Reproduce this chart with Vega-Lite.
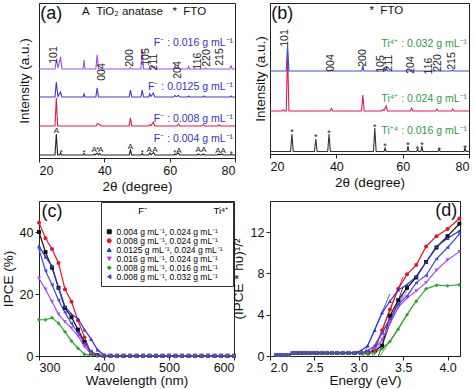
{
"$schema": "https://vega.github.io/schema/vega-lite/v6.json",
"padding": {"left": 0, "top": 2, "right": 2, "bottom": 0},
"bounds": "flush",
"columns": 2,
"spacing": {"row": 43, "column": 35},
"datasets": {
"xrdA": [
{"s":"a1","x":20,"y":3},{"s":"a1","x":24.9,"y":3},{"s":"a1","x":25.3,"y":24},{"s":"a1","x":25.7,"y":3},{"s":"a1","x":26.3,"y":3},{"s":"a1","x":26.6,"y":5},{"s":"a1","x":26.9,"y":3},{"s":"a1","x":33.5,"y":3},{"s":"a1","x":33.8,"y":4.5},{"s":"a1","x":34.1,"y":3},{"s":"a1","x":36.7,"y":3},{"s":"a1","x":37.0,"y":4},{"s":"a1","x":37.3,"y":3.2},{"s":"a1","x":37.8,"y":5},{"s":"a1","x":38.2,"y":3.2},{"s":"a1","x":38.6,"y":4.5},{"s":"a1","x":39.0,"y":3},{"s":"a1","x":47.6,"y":3},{"s":"a1","x":48.0,"y":8},{"s":"a1","x":48.4,"y":3},{"s":"a1","x":51.3,"y":3},{"s":"a1","x":51.6,"y":4.5},{"s":"a1","x":51.9,"y":3},{"s":"a1","x":53.6,"y":3},{"s":"a1","x":53.9,"y":5},{"s":"a1","x":54.3,"y":3.3},{"s":"a1","x":55.1,"y":5.5},{"s":"a1","x":55.5,"y":3},{"s":"a1","x":61.3,"y":3},{"s":"a1","x":61.6,"y":4},{"s":"a1","x":61.9,"y":3.2},{"s":"a1","x":62.7,"y":5},{"s":"a1","x":63.1,"y":3},{"s":"a1","x":68.5,"y":3},{"s":"a1","x":68.8,"y":4},{"s":"a1","x":69.2,"y":3},{"s":"a1","x":70.0,"y":3},{"s":"a1","x":70.3,"y":4},{"s":"a1","x":70.7,"y":3},{"s":"a1","x":74.7,"y":3},{"s":"a1","x":75.0,"y":4},{"s":"a1","x":75.4,"y":3.2},{"s":"a1","x":76.0,"y":4},{"s":"a1","x":76.4,"y":3},{"s":"a1","x":78.5,"y":3},{"s":"a1","x":78.8,"y":4},{"s":"a1","x":79.1,"y":3},{"s":"a1","x":80,"y":3},
{"s":"a2","x":20,"y":32},{"s":"a2","x":24.9,"y":32},{"s":"a2","x":25.3,"y":60},{"s":"a2","x":25.7,"y":32},{"s":"a2","x":37.5,"y":32},{"s":"a2","x":37.9,"y":34.5},{"s":"a2","x":38.5,"y":33.5},{"s":"a2","x":39.0,"y":32},{"s":"a2","x":47.6,"y":32},{"s":"a2","x":48.0,"y":40},{"s":"a2","x":48.4,"y":32},{"s":"a2","x":53.6,"y":32},{"s":"a2","x":53.9,"y":33.5},{"s":"a2","x":54.3,"y":32.3},{"s":"a2","x":55.0,"y":36},{"s":"a2","x":55.4,"y":32},{"s":"a2","x":62.3,"y":32},{"s":"a2","x":62.7,"y":34},{"s":"a2","x":63.1,"y":32},{"s":"a2","x":69.9,"y":32},{"s":"a2","x":70.3,"y":33.5},{"s":"a2","x":70.7,"y":32},{"s":"a2","x":74.7,"y":32},{"s":"a2","x":75.1,"y":33.3},{"s":"a2","x":75.5,"y":32},{"s":"a2","x":80,"y":32},
{"s":"a3","x":20,"y":61},{"s":"a3","x":24.9,"y":61},{"s":"a3","x":25.3,"y":76},{"s":"a3","x":25.8,"y":61.5},{"s":"a3","x":26.6,"y":66},{"s":"a3","x":27.0,"y":61},{"s":"a3","x":33.5,"y":61},{"s":"a3","x":33.8,"y":64},{"s":"a3","x":34.1,"y":61},{"s":"a3","x":37.4,"y":61},{"s":"a3","x":37.8,"y":70},{"s":"a3","x":38.2,"y":61},{"s":"a3","x":47.6,"y":61},{"s":"a3","x":48.0,"y":68},{"s":"a3","x":48.4,"y":61},{"s":"a3","x":51.2,"y":61},{"s":"a3","x":51.6,"y":68},{"s":"a3","x":52.0,"y":61},{"s":"a3","x":53.6,"y":61},{"s":"a3","x":53.9,"y":64},{"s":"a3","x":54.3,"y":61.5},{"s":"a3","x":55.0,"y":65},{"s":"a3","x":55.4,"y":61},{"s":"a3","x":61.2,"y":61},{"s":"a3","x":61.6,"y":62.5},{"s":"a3","x":62.0,"y":61.3},{"s":"a3","x":62.7,"y":62.5},{"s":"a3","x":63.1,"y":61},{"s":"a3","x":65.5,"y":61},{"s":"a3","x":65.8,"y":62},{"s":"a3","x":66.1,"y":61},{"s":"a3","x":70.2,"y":61},{"s":"a3","x":70.5,"y":62},{"s":"a3","x":70.8,"y":61},{"s":"a3","x":78.5,"y":61},{"s":"a3","x":78.8,"y":62},{"s":"a3","x":79.1,"y":61},{"s":"a3","x":80,"y":61},
{"s":"a4","x":20,"y":89},{"s":"a4","x":24.9,"y":89},{"s":"a4","x":25.3,"y":98},{"s":"a4","x":25.8,"y":90},{"s":"a4","x":26.6,"y":101},{"s":"a4","x":27.0,"y":89},{"s":"a4","x":33.5,"y":89},{"s":"a4","x":33.8,"y":98},{"s":"a4","x":34.1,"y":89},{"s":"a4","x":37.4,"y":89},{"s":"a4","x":37.8,"y":103},{"s":"a4","x":38.2,"y":89},{"s":"a4","x":47.7,"y":89},{"s":"a4","x":48.0,"y":90.5},{"s":"a4","x":48.3,"y":89},{"s":"a4","x":51.2,"y":89},{"s":"a4","x":51.6,"y":109},{"s":"a4","x":52.0,"y":89},{"s":"a4","x":54.2,"y":89},{"s":"a4","x":54.6,"y":92},{"s":"a4","x":55.0,"y":90},{"s":"a4","x":55.3,"y":91.5},{"s":"a4","x":55.7,"y":89},{"s":"a4","x":61.3,"y":89},{"s":"a4","x":61.6,"y":92.5},{"s":"a4","x":62.0,"y":89.5},{"s":"a4","x":62.7,"y":90.5},{"s":"a4","x":63.1,"y":89},{"s":"a4","x":65.5,"y":89},{"s":"a4","x":65.8,"y":91.5},{"s":"a4","x":66.1,"y":89},{"s":"a4","x":70.7,"y":89},{"s":"a4","x":71.0,"y":90},{"s":"a4","x":71.3,"y":89},{"s":"a4","x":78.4,"y":89},{"s":"a4","x":78.8,"y":92},{"s":"a4","x":79.2,"y":89},{"s":"a4","x":80,"y":89}
],
"xrdB": [
{"s":"b1","x":20,"y":2.5},{"s":"b1","x":26.2,"y":2.5},{"s":"b1","x":26.6,"y":20},{"s":"b1","x":27.0,"y":2.5},{"s":"b1","x":33.4,"y":2.5},{"s":"b1","x":33.8,"y":15},{"s":"b1","x":34.2,"y":2.5},{"s":"b1","x":37.4,"y":2.5},{"s":"b1","x":37.8,"y":20},{"s":"b1","x":38.2,"y":2.5},{"s":"b1","x":51.2,"y":2.5},{"s":"b1","x":51.6,"y":26},{"s":"b1","x":52.0,"y":2.5},{"s":"b1","x":54.4,"y":2.5},{"s":"b1","x":54.7,"y":6},{"s":"b1","x":55.0,"y":2.5},{"s":"b1","x":61.3,"y":2.5},{"s":"b1","x":61.6,"y":8},{"s":"b1","x":61.9,"y":2.5},{"s":"b1","x":64.2,"y":2.5},{"s":"b1","x":64.5,"y":4.5},{"s":"b1","x":64.8,"y":2.5},{"s":"b1","x":65.5,"y":2.5},{"s":"b1","x":65.8,"y":8},{"s":"b1","x":66.1,"y":2.5},{"s":"b1","x":70.7,"y":2.5},{"s":"b1","x":71.0,"y":4.5},{"s":"b1","x":71.3,"y":2.5},{"s":"b1","x":78.5,"y":2.5},{"s":"b1","x":78.8,"y":6},{"s":"b1","x":79.1,"y":2.5},{"s":"b1","x":80,"y":2.5},
{"s":"b2","x":20,"y":43},{"s":"b2","x":23.6,"y":43},{"s":"b2","x":24.0,"y":44},{"s":"b2","x":24.5,"y":43},{"s":"b2","x":24.9,"y":43},{"s":"b2","x":25.3,"y":103},{"s":"b2","x":25.7,"y":43},{"s":"b2","x":38.1,"y":43},{"s":"b2","x":38.5,"y":45.5},{"s":"b2","x":38.9,"y":43},{"s":"b2","x":47.6,"y":43},{"s":"b2","x":48.0,"y":59},{"s":"b2","x":48.4,"y":43},{"s":"b2","x":53.7,"y":43},{"s":"b2","x":54.0,"y":44.5},{"s":"b2","x":54.4,"y":43.5},{"s":"b2","x":55.0,"y":48},{"s":"b2","x":55.4,"y":43},{"s":"b2","x":62.3,"y":43},{"s":"b2","x":62.7,"y":46},{"s":"b2","x":63.1,"y":43},{"s":"b2","x":69.9,"y":43},{"s":"b2","x":70.3,"y":45},{"s":"b2","x":70.7,"y":43},{"s":"b2","x":74.7,"y":43},{"s":"b2","x":75.1,"y":45},{"s":"b2","x":75.5,"y":43},{"s":"b2","x":80,"y":43},
{"s":"b3","x":20,"y":83},{"s":"b3","x":24.9,"y":83},{"s":"b3","x":25.3,"y":108},{"s":"b3","x":25.7,"y":83},{"s":"b3","x":38.1,"y":83},{"s":"b3","x":38.5,"y":84},{"s":"b3","x":38.9,"y":83},{"s":"b3","x":47.7,"y":83},{"s":"b3","x":48.0,"y":89},{"s":"b3","x":48.3,"y":83},{"s":"b3","x":54.8,"y":83},{"s":"b3","x":55.1,"y":87},{"s":"b3","x":55.4,"y":83},{"s":"b3","x":62.4,"y":83},{"s":"b3","x":62.7,"y":84},{"s":"b3","x":63.0,"y":83},{"s":"b3","x":74.8,"y":83},{"s":"b3","x":75.1,"y":84},{"s":"b3","x":75.4,"y":83},{"s":"b3","x":80,"y":83}
],
"hklA": [{"x":24.5,"y":103,"t":"101"},{"x":39.2,"y":86,"t":"004"},{"x":48.0,"y":100,"t":"200"},{"x":52.9,"y":101,"t":"105"},{"x":55.2,"y":96,"t":"211"},{"x":62.6,"y":88,"t":"204"},{"x":68.7,"y":97,"t":"116"},{"x":71.3,"y":100,"t":"220"},{"x":75.4,"y":101,"t":"215"}],
"hklB": [{"x":24.6,"y":116,"t":"101"},{"x":38.5,"y":91,"t":"004"},{"x":48.0,"y":96,"t":"200"},{"x":53.4,"y":90,"t":"105"},{"x":55.8,"y":91,"t":"211"},{"x":62.6,"y":89,"t":"204"},{"x":67.8,"y":88,"t":"116"},{"x":70.6,"y":91,"t":"220"},{"x":74.9,"y":93,"t":"215"}],
"mkA": [{"x":25.3,"y":27,"t":"A"},{"x":26.8,"y":5,"t":"*"},{"x":33.8,"y":5,"t":"*"},{"x":36.9,"y":8,"t":"A"},{"x":37.9,"y":8,"t":"*"},{"x":38.9,"y":8,"t":"A"},{"x":48.0,"y":11,"t":"A"},{"x":51.6,"y":5,"t":"*"},{"x":53.7,"y":8,"t":"A"},{"x":55.5,"y":8,"t":"A"},{"x":61.6,"y":5,"t":"*"},{"x":62.8,"y":7,"t":"A"},{"x":68.7,"y":8,"t":"A"},{"x":70.4,"y":8,"t":"A"},{"x":74.8,"y":7,"t":"A"},{"x":76.4,"y":7,"t":"A"},{"x":78.9,"y":4,"t":"*"}],
"mkB": [{"x":26.6,"y":22,"t":"*"},{"x":33.8,"y":17,"t":"*"},{"x":37.8,"y":21,"t":"*"},{"x":51.6,"y":27,"t":"*"},{"x":54.7,"y":8,"t":"*"},{"x":61.6,"y":9,"t":"*"},{"x":64.5,"y":5.5,"t":"*"},{"x":65.8,"y":9,"t":"*"},{"x":71.0,"y":4.5,"t":"*"},{"x":78.8,"y":6,"t":"*"}],
"lgA": [{"x":79.4,"y":115,"t":"F⁻ : 0.016 g mL⁻¹"},{"x":79.4,"y":71,"t":"F⁻ : 0.0125 g mL⁻¹"},{"x":79.4,"y":39,"t":"F⁻ : 0.008 g mL⁻¹"},{"x":79.4,"y":19,"t":"F⁻ : 0.004 g mL⁻¹"}],
"lgB": [{"x":79.4,"y":110,"t":"Ti⁴⁺ : 0.032 g mL⁻¹"},{"x":79.4,"y":55,"t":"Ti⁴⁺ : 0.024 g mL⁻¹"},{"x":79.4,"y":23,"t":"Ti⁺⁴ : 0.016 g mL⁻¹"}],
"fits": [
{"k":1,"e":3.22,"t":0},{"k":1,"e":3.5,"t":6.7},
{"k":2,"e":3.15,"t":0},{"k":2,"e":3.5,"t":7.7},
{"k":3,"e":3.05,"t":0},{"k":3,"e":3.35,"t":6},
{"k":4,"e":3.17,"t":0},{"k":4,"e":3.55,"t":6.5},
{"k":5,"e":3.24,"t":0},{"k":5,"e":3.65,"t":5.4},
{"k":6,"e":3.11,"t":0},{"k":6,"e":3.5,"t":5.9}
],
"ipce": [
{"k":1,"w":300,"i":40,"e":4.133,"t":12.8},{"k":1,"w":310,"i":33.5,"e":4.0,"t":11.6},{"k":1,"w":320,"i":28.5,"e":3.875,"t":10.5},{"k":1,"w":330,"i":22,"e":3.758,"t":9.1},{"k":1,"w":340,"i":15.5,"e":3.647,"t":7.6},{"k":1,"w":350,"i":12.5,"e":3.543,"t":6.6},{"k":1,"w":360,"i":8.5,"e":3.444,"t":5.4},{"k":1,"w":370,"i":4.5,"e":3.351,"t":3.9},{"k":1,"w":380,"i":1,"e":3.263,"t":1.0},{"k":1,"w":390,"i":0.3,"e":3.179,"t":0.5},{"k":1,"w":400,"i":0.1,"e":3.1,"t":0.35},{"k":1,"w":410,"i":0.1,"e":3.024,"t":0.3},{"k":1,"w":420,"i":0.1,"e":2.952,"t":0.3},{"k":1,"w":430,"i":0.1,"e":2.884,"t":0.3},{"k":1,"w":440,"i":0.1,"e":2.818,"t":0.3},{"k":1,"w":450,"i":0.1,"e":2.756,"t":0.3},{"k":1,"w":460,"i":0.1,"e":2.696,"t":0.3},{"k":1,"w":470,"i":0.1,"e":2.638,"t":0.3},{"k":1,"w":480,"i":0.1,"e":2.583,"t":0.3},{"k":1,"w":490,"i":0.1,"e":2.531,"t":0.3},{"k":1,"w":500,"i":0.1,"e":2.48,"t":0.3},{"k":1,"w":510,"i":0.1,"e":2.431,"t":0.3},{"k":1,"w":520,"i":0.1,"e":2.385,"t":0.3},{"k":1,"w":530,"i":0.1,"e":2.34,"t":0.3},{"k":1,"w":540,"i":0.1,"e":2.296,"t":0.3},{"k":1,"w":550,"i":0.1,"e":2.255,"t":0.3},{"k":1,"w":560,"i":0.1,"e":2.214,"t":0.1},{"k":1,"w":570,"i":0.1,"e":2.175,"t":0.1},{"k":1,"w":580,"i":0.1,"e":2.138,"t":0.1},{"k":1,"w":590,"i":0.1,"e":2.102,"t":0.1},{"k":1,"w":600,"i":0.1,"e":2.067,"t":0.1},
{"k":2,"w":300,"i":43,"e":4.133,"t":13.3},{"k":2,"w":310,"i":38,"e":4.0,"t":12.3},{"k":2,"w":320,"i":34.5,"e":3.875,"t":11.6},{"k":2,"w":330,"i":30,"e":3.758,"t":10.6},{"k":2,"w":340,"i":21.5,"e":3.647,"t":8.8},{"k":2,"w":350,"i":17.5,"e":3.543,"t":7.9},{"k":2,"w":360,"i":11.5,"e":3.444,"t":6.5},{"k":2,"w":370,"i":6,"e":3.351,"t":4.5},{"k":2,"w":380,"i":1,"e":3.263,"t":2.5},{"k":2,"w":390,"i":0.2,"e":3.179,"t":0.6},{"k":2,"w":400,"i":0.1,"e":3.1,"t":0.3},{"k":2,"w":410,"i":0.1,"e":3.024,"t":0.3},{"k":2,"w":420,"i":0.1,"e":2.952,"t":0.3},{"k":2,"w":430,"i":0.1,"e":2.884,"t":0.3},{"k":2,"w":440,"i":0.1,"e":2.818,"t":0.3},{"k":2,"w":450,"i":0.1,"e":2.756,"t":0.3},{"k":2,"w":460,"i":0.1,"e":2.696,"t":0.3},{"k":2,"w":470,"i":0.1,"e":2.638,"t":0.3},{"k":2,"w":480,"i":0.1,"e":2.583,"t":0.3},{"k":2,"w":490,"i":0.1,"e":2.531,"t":0.3},{"k":2,"w":500,"i":0.1,"e":2.48,"t":0.3},{"k":2,"w":510,"i":0.1,"e":2.431,"t":0.3},{"k":2,"w":520,"i":0.1,"e":2.385,"t":0.3},{"k":2,"w":530,"i":0.1,"e":2.34,"t":0.3},{"k":2,"w":540,"i":0.1,"e":2.296,"t":0.3},{"k":2,"w":550,"i":0.1,"e":2.255,"t":0.3},{"k":2,"w":560,"i":0.1,"e":2.214,"t":0.1},{"k":2,"w":570,"i":0.1,"e":2.175,"t":0.1},{"k":2,"w":580,"i":0.1,"e":2.138,"t":0.1},{"k":2,"w":590,"i":0.1,"e":2.102,"t":0.1},{"k":2,"w":600,"i":0.1,"e":2.067,"t":0.1},
{"k":3,"w":300,"i":35.5,"e":4.133,"t":12.1},{"k":3,"w":310,"i":32,"e":4.0,"t":11.4},{"k":3,"w":320,"i":29,"e":3.875,"t":10.6},{"k":3,"w":330,"i":22,"e":3.758,"t":9.1},{"k":3,"w":340,"i":16,"e":3.647,"t":7.7},{"k":3,"w":350,"i":13.5,"e":3.543,"t":6.9},{"k":3,"w":360,"i":12,"e":3.444,"t":6.4},{"k":3,"w":370,"i":8.5,"e":3.351,"t":5.3},{"k":3,"w":380,"i":5.5,"e":3.263,"t":4.2},{"k":3,"w":390,"i":2,"e":3.179,"t":2.5},{"k":3,"w":400,"i":0.3,"e":3.1,"t":1.0},{"k":3,"w":410,"i":0.1,"e":3.024,"t":0.5},{"k":3,"w":420,"i":0.1,"e":2.952,"t":0.3},{"k":3,"w":430,"i":0.1,"e":2.884,"t":0.3},{"k":3,"w":440,"i":0.1,"e":2.818,"t":0.3},{"k":3,"w":450,"i":0.1,"e":2.756,"t":0.3},{"k":3,"w":460,"i":0.1,"e":2.696,"t":0.3},{"k":3,"w":470,"i":0.1,"e":2.638,"t":0.3},{"k":3,"w":480,"i":0.1,"e":2.583,"t":0.3},{"k":3,"w":490,"i":0.1,"e":2.531,"t":0.3},{"k":3,"w":500,"i":0.1,"e":2.48,"t":0.3},{"k":3,"w":510,"i":0.1,"e":2.431,"t":0.3},{"k":3,"w":520,"i":0.1,"e":2.385,"t":0.3},{"k":3,"w":530,"i":0.1,"e":2.34,"t":0.3},{"k":3,"w":540,"i":0.1,"e":2.296,"t":0.3},{"k":3,"w":550,"i":0.1,"e":2.255,"t":0.3},{"k":3,"w":560,"i":0.1,"e":2.214,"t":0.1},{"k":3,"w":570,"i":0.1,"e":2.175,"t":0.1},{"k":3,"w":580,"i":0.1,"e":2.138,"t":0.1},{"k":3,"w":590,"i":0.1,"e":2.102,"t":0.1},{"k":3,"w":600,"i":0.1,"e":2.067,"t":0.1},
{"k":4,"w":300,"i":25,"e":4.133,"t":10.1},{"k":4,"w":310,"i":21.5,"e":4.0,"t":9.3},{"k":4,"w":320,"i":17.5,"e":3.875,"t":8.3},{"k":4,"w":330,"i":13.5,"e":3.758,"t":7.1},{"k":4,"w":340,"i":11,"e":3.647,"t":6.3},{"k":4,"w":350,"i":9,"e":3.543,"t":5.6},{"k":4,"w":360,"i":6.5,"e":3.444,"t":4.7},{"k":4,"w":370,"i":3,"e":3.351,"t":3.2},{"k":4,"w":380,"i":0.7,"e":3.263,"t":1.6},{"k":4,"w":390,"i":0.2,"e":3.179,"t":0.7},{"k":4,"w":400,"i":0.1,"e":3.1,"t":0.3},{"k":4,"w":410,"i":0.1,"e":3.024,"t":0.3},{"k":4,"w":420,"i":0.1,"e":2.952,"t":0.3},{"k":4,"w":430,"i":0.1,"e":2.884,"t":0.3},{"k":4,"w":440,"i":0.1,"e":2.818,"t":0.3},{"k":4,"w":450,"i":0.1,"e":2.756,"t":0.3},{"k":4,"w":460,"i":0.1,"e":2.696,"t":0.3},{"k":4,"w":470,"i":0.1,"e":2.638,"t":0.3},{"k":4,"w":480,"i":0.1,"e":2.583,"t":0.3},{"k":4,"w":490,"i":0.1,"e":2.531,"t":0.3},{"k":4,"w":500,"i":0.1,"e":2.48,"t":0.3},{"k":4,"w":510,"i":0.1,"e":2.431,"t":0.3},{"k":4,"w":520,"i":0.1,"e":2.385,"t":0.3},{"k":4,"w":530,"i":0.1,"e":2.34,"t":0.3},{"k":4,"w":540,"i":0.1,"e":2.296,"t":0.3},{"k":4,"w":550,"i":0.1,"e":2.255,"t":0.3},{"k":4,"w":560,"i":0.1,"e":2.214,"t":0.1},{"k":4,"w":570,"i":0.1,"e":2.175,"t":0.1},{"k":4,"w":580,"i":0.1,"e":2.138,"t":0.1},{"k":4,"w":590,"i":0.1,"e":2.102,"t":0.1},{"k":4,"w":600,"i":0.1,"e":2.067,"t":0.1},
{"k":5,"w":300,"i":11.7,"e":4.133,"t":6.9},{"k":5,"w":310,"i":11.7,"e":4.0,"t":6.8},{"k":5,"w":320,"i":12.3,"e":3.875,"t":6.85},{"k":5,"w":330,"i":10.6,"e":3.758,"t":6.5},{"k":5,"w":340,"i":7.8,"e":3.647,"t":5.3},{"k":5,"w":350,"i":4.8,"e":3.543,"t":4.0},{"k":5,"w":360,"i":2.5,"e":3.444,"t":2.6},{"k":5,"w":370,"i":0.6,"e":3.351,"t":1.4},{"k":5,"w":380,"i":0.2,"e":3.263,"t":0.7},{"k":5,"w":390,"i":0.1,"e":3.179,"t":0.35},{"k":5,"w":400,"i":0.1,"e":3.1,"t":0.2},{"k":5,"w":410,"i":0.1,"e":3.024,"t":0.3},{"k":5,"w":420,"i":0.1,"e":2.952,"t":0.3},{"k":5,"w":430,"i":0.1,"e":2.884,"t":0.3},{"k":5,"w":440,"i":0.1,"e":2.818,"t":0.3},{"k":5,"w":450,"i":0.1,"e":2.756,"t":0.3},{"k":5,"w":460,"i":0.1,"e":2.696,"t":0.3},{"k":5,"w":470,"i":0.1,"e":2.638,"t":0.3},{"k":5,"w":480,"i":0.1,"e":2.583,"t":0.3},{"k":5,"w":490,"i":0.1,"e":2.531,"t":0.3},{"k":5,"w":500,"i":0.1,"e":2.48,"t":0.3},{"k":5,"w":510,"i":0.1,"e":2.431,"t":0.3},{"k":5,"w":520,"i":0.1,"e":2.385,"t":0.3},{"k":5,"w":530,"i":0.1,"e":2.34,"t":0.3},{"k":5,"w":540,"i":0.1,"e":2.296,"t":0.3},{"k":5,"w":550,"i":0.1,"e":2.255,"t":0.3},{"k":5,"w":560,"i":0.1,"e":2.214,"t":0.1},{"k":5,"w":570,"i":0.1,"e":2.175,"t":0.1},{"k":5,"w":580,"i":0.1,"e":2.138,"t":0.1},{"k":5,"w":590,"i":0.1,"e":2.102,"t":0.1},{"k":5,"w":600,"i":0.1,"e":2.067,"t":0.1},
{"k":6,"w":300,"i":34.5,"e":4.133,"t":11.8},{"k":6,"w":310,"i":27.5,"e":4.0,"t":10.5},{"k":6,"w":320,"i":23,"e":3.875,"t":9.4},{"k":6,"w":330,"i":18,"e":3.758,"t":7.8},{"k":6,"w":340,"i":14,"e":3.647,"t":7.1},{"k":6,"w":350,"i":10.5,"e":3.543,"t":5.8},{"k":6,"w":360,"i":7.5,"e":3.444,"t":5.0},{"k":6,"w":370,"i":4,"e":3.351,"t":3.6},{"k":6,"w":380,"i":1.5,"e":3.263,"t":2.2},{"k":6,"w":390,"i":0.3,"e":3.179,"t":1.0},{"k":6,"w":400,"i":0.1,"e":3.1,"t":0.5},{"k":6,"w":410,"i":0.1,"e":3.024,"t":0.3},{"k":6,"w":420,"i":0.1,"e":2.952,"t":0.3},{"k":6,"w":430,"i":0.1,"e":2.884,"t":0.3},{"k":6,"w":440,"i":0.1,"e":2.818,"t":0.3},{"k":6,"w":450,"i":0.1,"e":2.756,"t":0.3},{"k":6,"w":460,"i":0.1,"e":2.696,"t":0.3},{"k":6,"w":470,"i":0.1,"e":2.638,"t":0.3},{"k":6,"w":480,"i":0.1,"e":2.583,"t":0.3},{"k":6,"w":490,"i":0.1,"e":2.531,"t":0.3},{"k":6,"w":500,"i":0.1,"e":2.48,"t":0.3},{"k":6,"w":510,"i":0.1,"e":2.431,"t":0.3},{"k":6,"w":520,"i":0.1,"e":2.385,"t":0.3},{"k":6,"w":530,"i":0.1,"e":2.34,"t":0.3},{"k":6,"w":540,"i":0.1,"e":2.296,"t":0.3},{"k":6,"w":550,"i":0.1,"e":2.255,"t":0.3},{"k":6,"w":560,"i":0.1,"e":2.214,"t":0.1},{"k":6,"w":570,"i":0.1,"e":2.175,"t":0.1},{"k":6,"w":580,"i":0.1,"e":2.138,"t":0.1},{"k":6,"w":590,"i":0.1,"e":2.102,"t":0.1},{"k":6,"w":600,"i":0.1,"e":2.067,"t":0.1}
]
},
"resolve": {"scale": {"color": "independent", "shape": "independent", "stroke": "independent"}, "legend": {"color": "independent", "shape": "independent"}},
"concat": [
{
"width": 196, "height": 155,
"layer": [
{"data": {"name": "xrdA"}, "mark": {"type": "line", "strokeWidth": 1.1},
 "encoding": {
  "x": {"field": "x", "type": "quantitative", "scale": {"domain": [20, 80], "nice": false}, "axis": {"values": [20,30,40,50,60,70,80], "title": "2θ (degree)", "titlePadding": 3}},
  "y": {"field": "y", "type": "quantitative", "scale": {"domain": [0, 155], "nice": false}, "axis": {"labels": false, "ticks": false, "title": "Intensity (a.u.)", "titlePadding": 8}},
  "color": {"field": "s", "type": "nominal", "scale": {"domain": ["a1","a2","a3","a4"], "range": ["#222222","#e8174b","#3a3ad0","#a050e8"]}, "legend": null}}},
{"data": {"name": "hklA"}, "mark": {"type": "text", "angle": 270, "fontSize": 10.5, "align": "center", "baseline": "middle", "color": "#222"},
 "encoding": {"x": {"field": "x", "type": "quantitative"}, "y": {"field": "y", "type": "quantitative"}, "text": {"field": "t"}}},
{"data": {"name": "mkA"}, "mark": {"type": "text", "fontSize": 8, "align": "center", "baseline": "middle", "color": "#222"},
 "encoding": {"x": {"field": "x", "type": "quantitative"}, "y": {"field": "y", "type": "quantitative"}, "text": {"field": "t"}}},
{"data": {"name": "lgA"}, "mark": {"type": "text", "fontSize": 10.5, "align": "right", "baseline": "middle", "color": "#3434c4"},
 "encoding": {"x": {"field": "x", "type": "quantitative"}, "y": {"field": "y", "type": "quantitative"}, "text": {"field": "t"}}},
{"data": {"values": [{"x": 20.4, "y": 144, "t": "(a)"}]}, "mark": {"type": "text", "fontSize": 18, "align": "left", "baseline": "middle", "color": "#111"},
 "encoding": {"x": {"field": "x", "type": "quantitative"}, "y": {"field": "y", "type": "quantitative"}, "text": {"field": "t"}}},
{"data": {"values": [{"x": 33.2, "y": 146, "t": "A\u00a0\u00a0TiO₂ anatase\u00a0\u00a0\u00a0*\u00a0\u00a0FTO"}]}, "mark": {"type": "text", "fontSize": 11.5, "align": "left", "baseline": "middle", "color": "#111"},
 "encoding": {"x": {"field": "x", "type": "quantitative"}, "y": {"field": "y", "type": "quantitative"}, "text": {"field": "t"}}}
]
},
{
"width": 199, "height": 151,
"layer": [
{"data": {"name": "xrdB"}, "mark": {"type": "line", "strokeWidth": 1.1},
 "encoding": {
  "x": {"field": "x", "type": "quantitative", "scale": {"domain": [20, 80], "nice": false}, "axis": {"values": [20,30,40,50,60,70,80], "title": "2θ (degree)", "titlePadding": 3}},
  "y": {"field": "y", "type": "quantitative", "scale": {"domain": [0, 151], "nice": false}, "axis": {"labels": false, "ticks": false, "title": "Intensity (a.u.)", "titlePadding": 3}},
  "color": {"field": "s", "type": "nominal", "scale": {"domain": ["b1","b2","b3"], "range": ["#333333","#e8175d","#3a4ae0"]}, "legend": null}}},
{"data": {"name": "hklB"}, "mark": {"type": "text", "angle": 270, "fontSize": 10.5, "align": "center", "baseline": "middle", "color": "#222"},
 "encoding": {"x": {"field": "x", "type": "quantitative"}, "y": {"field": "y", "type": "quantitative"}, "text": {"field": "t"}}},
{"data": {"name": "mkB"}, "mark": {"type": "text", "fontSize": 9, "align": "center", "baseline": "middle", "color": "#222"},
 "encoding": {"x": {"field": "x", "type": "quantitative"}, "y": {"field": "y", "type": "quantitative"}, "text": {"field": "t"}}},
{"data": {"name": "lgB"}, "mark": {"type": "text", "fontSize": 10.5, "align": "right", "baseline": "middle", "color": "#2e9a4a"},
 "encoding": {"x": {"field": "x", "type": "quantitative"}, "y": {"field": "y", "type": "quantitative"}, "text": {"field": "t"}}},
{"data": {"values": [{"x": 20.4, "y": 140, "t": "(b)"}]}, "mark": {"type": "text", "fontSize": 18, "align": "left", "baseline": "middle", "color": "#111"},
 "encoding": {"x": {"field": "x", "type": "quantitative"}, "y": {"field": "y", "type": "quantitative"}, "text": {"field": "t"}}},
{"data": {"values": [{"x": 50.0, "y": 143, "t": "*\u00a0\u00a0FTO"}]}, "mark": {"type": "text", "fontSize": 11.5, "align": "left", "baseline": "middle", "color": "#111"},
 "encoding": {"x": {"field": "x", "type": "quantitative"}, "y": {"field": "y", "type": "quantitative"}, "text": {"field": "t"}}}
]
},
{
"width": 195, "height": 155,
"layer": [
{"data": {"name": "ipce"}, "mark": {"type": "line", "strokeWidth": 1.2, "point": {"filled": true, "size": 16}},
 "encoding": {
  "x": {"field": "w", "type": "quantitative", "scale": {"domain": [300, 600], "nice": false}, "axis": {"values": [300,350,400,450,500,550,600], "title": "Wavelength (nm)", "titlePadding": 0, "labelPadding": 1}},
  "y": {"field": "i", "type": "quantitative", "scale": {"domain": [0, 50], "nice": false}, "axis": {"values": [0,10,20,30,40,50], "title": "IPCE (%)", "titlePadding": 4}},
  "color": {"field": "k", "type": "nominal", "scale": {"domain": [1,2,3,4,5,6], "range": ["#111111","#e8112d","#2a35d0","#a64bf4","#2aa52a","#4444e6"]},
   "legend": {"orient": "top-right", "offset": 1, "title": "\u200b\u2002\u2002\u2002\u2002\u2002\u2002\u2002F⁻\u2002\u2002\u2002\u2002\u2002\u2002\u2002\u2002\u2002\u2002\u2002\u2002\u2002\u2002Ti⁴⁺",
    "labelExpr": "['0.004 g mL⁻¹, 0.024 g mL⁻¹','0.008 g mL⁻¹, 0.024 g mL⁻¹','0.0125 g mL⁻¹, 0.024 g mL⁻¹','0.016 g mL⁻¹, 0.024 g mL⁻¹','0.008 g mL⁻¹, 0.016 g mL⁻¹','0.008 g mL⁻¹, 0.032 g mL⁻¹'][datum.value-1]"}},
  "shape": {"field": "k", "type": "nominal", "scale": {"domain": [1,2,3,4,5,6], "range": ["square","circle","triangle-up","triangle-down","diamond","triangle-left"]},
   "legend": {"orient": "top-right", "offset": 1, "title": "\u200b\u2002\u2002\u2002\u2002\u2002\u2002\u2002F⁻\u2002\u2002\u2002\u2002\u2002\u2002\u2002\u2002\u2002\u2002\u2002\u2002\u2002\u2002Ti⁴⁺",
    "labelExpr": "['0.004 g mL⁻¹, 0.024 g mL⁻¹','0.008 g mL⁻¹, 0.024 g mL⁻¹','0.0125 g mL⁻¹, 0.024 g mL⁻¹','0.016 g mL⁻¹, 0.024 g mL⁻¹','0.008 g mL⁻¹, 0.016 g mL⁻¹','0.008 g mL⁻¹, 0.032 g mL⁻¹'][datum.value-1]"}}}},
{"data": {"values": [{"x": 304, "y": 46.5, "t": "(c)"}]}, "mark": {"type": "text", "fontSize": 18, "align": "left", "baseline": "middle", "color": "#111"},
 "encoding": {"x": {"field": "x", "type": "quantitative"}, "y": {"field": "y", "type": "quantitative"}, "text": {"field": "t"}}}
]
},
{
"width": 190, "height": 155,
"layer": [
{"data": {"name": "fits"}, "mark": {"type": "line", "strokeWidth": 0.8},
 "encoding": {
  "x": {"field": "e", "type": "quantitative", "scale": {"domain": [2.0, 4.14], "nice": false}, "axis": {"values": [2.0,2.5,3.0,3.5,4.0], "format": ".1f", "title": "Energy (eV)", "titlePadding": 0, "labelPadding": 1}},
  "y": {"field": "t", "type": "quantitative", "scale": {"domain": [0, 15], "nice": false}, "axis": {"values": [0,2,4,6,8,10,12,14], "title": "(IPCE * hυ)¹/²", "titlePadding": 5}},
  "stroke": {"field": "k", "type": "nominal", "scale": {"domain": [1,2,3,4,5,6], "range": ["#111111","#e8112d","#2a35d0","#a64bf4","#2aa52a","#4444e6"]}, "legend": null},
  "detail": {"field": "k"}}},
{"data": {"name": "ipce"}, "mark": {"type": "line", "strokeWidth": 1.2, "point": {"filled": true, "size": 16}},
 "encoding": {
  "x": {"field": "e", "type": "quantitative"},
  "y": {"field": "t", "type": "quantitative"},
  "color": {"field": "k", "type": "nominal", "scale": {"domain": [1,2,3,4,5,6], "range": ["#111111","#e8112d","#2a35d0","#a64bf4","#2aa52a","#4444e6"]},
   "legend": {"orient": "top-left", "offset": 5, "title": "\u200b\u2002\u2002\u2002\u2002\u2002\u2002\u2002F⁻\u2002\u2002\u2002\u2002\u2002\u2002\u2002\u2002\u2002\u2002\u2002Ti⁴⁺",
    "labelExpr": "['0.004 g mL⁻¹, 0.024 g mL⁻¹','0.008 g mL⁻¹, 0.024 g mL⁻¹','0.0125 g mL⁻¹, 0.024 g mL⁻¹','0.016 g mL⁻¹, 0.024 g mL⁻¹','0.008 g mL⁻¹, 0.016 g mL⁻¹','0.008 g mL⁻¹, 0.032 g mL⁻¹'][datum.value-1]"}},
  "shape": {"field": "k", "type": "nominal", "scale": {"domain": [1,2,3,4,5,6], "range": ["square","circle","triangle-up","triangle-down","diamond","triangle-left"]},
   "legend": {"orient": "top-left", "offset": 5, "title": "\u200b\u2002\u2002\u2002\u2002\u2002\u2002\u2002F⁻\u2002\u2002\u2002\u2002\u2002\u2002\u2002\u2002\u2002\u2002\u2002Ti⁴⁺",
    "labelExpr": "['0.004 g mL⁻¹, 0.024 g mL⁻¹','0.008 g mL⁻¹, 0.024 g mL⁻¹','0.0125 g mL⁻¹, 0.024 g mL⁻¹','0.016 g mL⁻¹, 0.024 g mL⁻¹','0.008 g mL⁻¹, 0.016 g mL⁻¹','0.008 g mL⁻¹, 0.032 g mL⁻¹'][datum.value-1]"}}}},
{"data": {"values": [{"x": 4.11, "y": 14, "t": "(d)"}]}, "mark": {"type": "text", "fontSize": 18, "align": "right", "baseline": "middle", "color": "#111"},
 "encoding": {"x": {"field": "x", "type": "quantitative"}, "y": {"field": "y", "type": "quantitative"}, "text": {"field": "t"}}}
]
}
],
"config": {
 "font": "Liberation Sans",
 "view": {"stroke": "#222", "strokeWidth": 1},
 "axis": {"grid": false, "domainColor": "#222", "tickColor": "#222", "labelColor": "#111", "titleColor": "#111", "labelFontSize": 12.5, "titleFontSize": 13.5, "titleFontWeight": "normal", "tickSize": 4, "labelPadding": 2},
 "legend": {"fillColor": "white", "strokeColor": "#333", "padding": 4, "labelFontSize": 8.5, "titleFontSize": 9.5, "titleFontWeight": "normal", "symbolSize": 16, "rowPadding": -1.2, "symbolStrokeWidth": 1, "titlePadding": 12, "labelOffset": 3}
}
}
